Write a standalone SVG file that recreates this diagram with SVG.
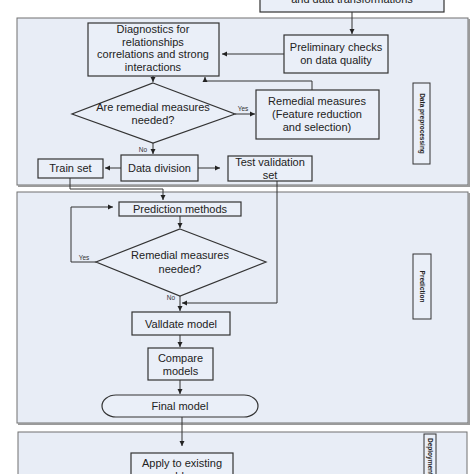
<svg xmlns="http://www.w3.org/2000/svg" width="474" height="474" viewBox="0 0 474 474">
<style>
.bg{fill:#ffffff}
.panel{fill:#e8edf6;stroke:#707070;stroke-width:1}
.shadow{fill:none;stroke:#9a9a9a;stroke-width:2}
.box{fill:#eaeff8;stroke:#333;stroke-width:1.2}
.lbl{fill:#eaeff8;stroke:#333;stroke-width:1}
.t{font-family:"Liberation Sans",Arial,sans-serif;font-size:11px;fill:#222;text-anchor:middle}
.s{font-family:"Liberation Sans",Arial,sans-serif;font-size:6.5px;fill:#333;text-anchor:middle}
.v{font-family:"Liberation Sans",Arial,sans-serif;font-size:6.5px;font-weight:bold;fill:#222;text-anchor:middle}
.c{fill:none;stroke:#333;stroke-width:1;marker-end:url(#ah)}
</style>
<defs>
<marker id="ah" markerWidth="6" markerHeight="6" refX="5" refY="3" orient="auto" markerUnits="userSpaceOnUse">
<path d="M0,0.5 L5,3 L0,5.5 Z" fill="#222"/>
</marker>
</defs>
<rect class="bg" x="0" y="0" width="474" height="474"/>

<g id="panel-preprocessing">
<rect class="panel" x="17" y="18" width="451" height="167"/>
<polyline class="shadow" points="18,186 469,186 469,19"/>
</g>
<g id="panel-prediction">
<rect class="panel" x="17" y="192" width="451" height="231"/>
<polyline class="shadow" points="18,424 469,424 469,193"/>
</g>
<g id="panel-deployment">
<rect class="panel" x="18" y="432" width="449" height="50"/>
</g>

<g id="top-box">
<rect class="box" x="260" y="-10" width="184" height="22"/>
<text class="t" x="352" y="3">and data transformations</text>
</g>

<g id="diagnostics">
<rect class="box" x="88" y="23" width="131" height="53"/>
<text class="t" x="153" y="33">Diagnostics for</text>
<text class="t" x="153" y="45.5">relationships</text>
<text class="t" x="153" y="58">correlations and strong</text>
<text class="t" x="153" y="70.5">interactions</text>
</g>

<g id="preliminary">
<rect class="box" x="284" y="35" width="104" height="38"/>
<text class="t" x="336" y="51">Preliminary checks</text>
<text class="t" x="336" y="64">on data quality</text>
</g>

<g id="decision1">
<polygon class="box" points="153,83 235,114 153,143 72,114"/>
<text class="t" x="153" y="111">Are remedial measures</text>
<text class="t" x="153" y="124">needed?</text>
</g>

<g id="remedial">
<rect class="box" x="256" y="90" width="123" height="49"/>
<text class="t" x="317" y="105">Remedial measures</text>
<text class="t" x="317" y="118">(Feature reduction</text>
<text class="t" x="317" y="130.5">and selection)</text>
</g>

<g id="data-division">
<rect class="box" x="121" y="155" width="77" height="26"/>
<text class="t" x="159.5" y="172">Data division</text>
</g>

<g id="train-set">
<rect class="box" x="38" y="159" width="65" height="19"/>
<text class="t" x="70.5" y="172">Train set</text>
</g>

<g id="test-set">
<rect class="box" x="228" y="156" width="84" height="25"/>
<text class="t" x="270" y="166">Test validation</text>
<text class="t" x="270" y="178.5">set</text>
</g>

<g id="label-preprocessing">
<rect class="lbl" x="413" y="83" width="17" height="81"/>
<text class="v" x="0" y="0" transform="translate(419.5,123.5) rotate(90)">Data preprocessing</text>
</g>

<g id="prediction-methods">
<rect class="box" x="119" y="202" width="122" height="14"/>
<text class="t" x="180" y="213">Prediction methods</text>
</g>

<g id="decision2">
<polygon class="box" points="180,229 266,262 180,296 96,262"/>
<text class="t" x="180" y="259">Remedial measures</text>
<text class="t" x="180" y="273">needed?</text>
</g>

<g id="validate">
<rect class="box" x="132" y="312" width="98" height="23"/>
<text class="t" x="181" y="327.5">Valldate model</text>
</g>

<g id="compare">
<rect class="box" x="148" y="348" width="65" height="32"/>
<text class="t" x="180.5" y="362">Compare</text>
<text class="t" x="180.5" y="375">models</text>
</g>

<g id="final-model">
<rect class="box" x="102" y="395" width="156" height="22" rx="14" ry="11"/>
<text class="t" x="180" y="410">Final model</text>
</g>

<g id="label-prediction">
<rect class="lbl" x="413" y="254" width="18" height="65"/>
<text class="v" x="0" y="0" transform="translate(420,286.5) rotate(90)">Prediction</text>
</g>

<g id="apply">
<rect class="box" x="131" y="453" width="102" height="30"/>
<text class="t" x="182" y="467">Apply to existing</text>
<text class="t" x="182" y="480">problems</text>
</g>

<g id="label-deployment">
<rect class="lbl" x="424" y="434" width="12" height="48"/>
<text class="v" x="0" y="0" transform="translate(428,438) rotate(90)" style="text-anchor:start">Deployment</text>
</g>

<g id="connectors">
<path class="c" d="M352,12 V34"/>
<path class="c" d="M284,54 H222"/>
<path class="c" d="M153,76 V82"/>
<path class="c" d="M235,114 H255"/>
<path class="c" d="M312,90 V81 H205 V77"/>
<path class="c" d="M153,143 V154"/>
<path class="c" d="M121,168 H105"/>
<path class="c" d="M198,168 H220"/>
<path class="c" d="M70,178 V189 H163 V200"/>
<path class="c" d="M277,181 V303 H182"/>
<path class="c" d="M180,216 V228"/>
<path class="c" d="M96,262 H71 V207 H113"/>
<path class="c" d="M180,296 V311"/>
<path class="c" d="M180,335 V347"/>
<path class="c" d="M180,380 V394"/>
<path class="c" d="M182,417 V446"/>
<text class="s" x="243" y="111">Yes</text>
<text class="s" x="143" y="152">No</text>
<text class="s" x="84" y="260">Yes</text>
<text class="s" x="171" y="300">No</text>
</g>
</svg>
